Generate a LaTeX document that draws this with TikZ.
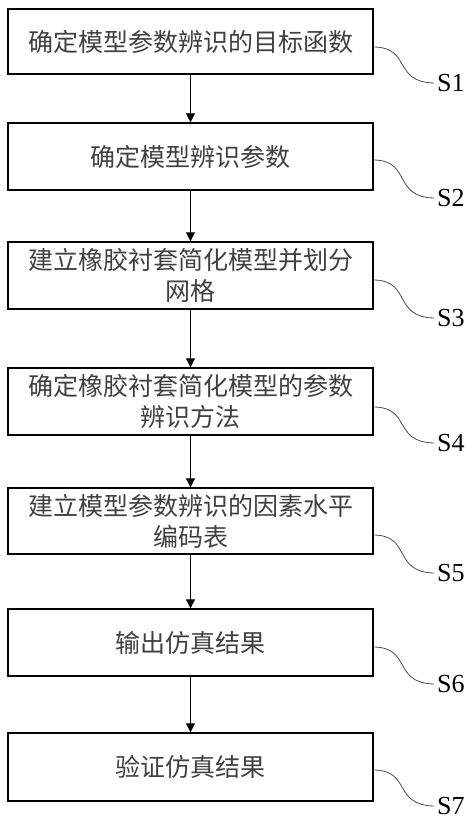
\documentclass[tikz,border=0pt]{standalone}
\usepackage{fontspec}
\newfontfamily\cjk{Noto Sans CJK SC}
\newfontfamily\lab{Liberation Serif}
\usetikzlibrary{arrows.meta}
\begin{document}
\begin{tikzpicture}[x=1pt,y=-1pt,
  stepbox/.style={draw=black,line width=1.4pt,minimum width=365pt,inner sep=0pt,
    align=center,font=\cjk\fontsize{25}{31}\selectfont,text=black!75},
  flow/.style={line width=0.9pt,-{Triangle[length=9pt,width=9pt]}},
  lead/.style={line width=0.8pt,black!70},
  slab/.style={font=\lab\fontsize{26}{26}\selectfont,anchor=west,inner sep=0pt}]
\useasboundingbox (0,0) rectangle (474,821);
\node[stepbox,minimum height=65pt] (b1) at (190.5,41.5) {确定模型参数辨识的目标函数};
\node[stepbox,minimum height=67pt] (b2) at (190.5,156.5) {确定模型辨识参数};
\node[stepbox,minimum height=67pt] (b3) at (190.5,275.5) {建立橡胶衬套简化模型并划分\\网格};
\node[stepbox,minimum height=67pt] (b4) at (190.5,401.5) {确定橡胶衬套简化模型的参数\\辨识方法};
\node[stepbox,minimum height=66pt] (b5) at (190.5,521) {建立模型参数辨识的因素水平\\编码表};
\node[stepbox,minimum height=67pt] (b6) at (190.5,642.5) {输出仿真结果};
\node[stepbox,minimum height=68pt] (b7) at (190.5,767) {验证仿真结果};
\foreach \a/\b in {b1/b2,b2/b3,b3/b4,b4/b5,b5/b6,b6/b7}
  \draw[flow] (\a.south) -- (\b.north);
\foreach \i/\ys/\ye in {1/47/82,2/160/197,3/280/317,4/407/442,5/535/572,6/647/683,7/770/805}{
  \coordinate (c\i) at (373,\ys);
  \node[slab] (s\i) at (437,\ye+1) {S\i};
  \draw[lead] (c\i) .. controls (412,\ys) and (392,\ye) .. ([xshift=-3pt]s\i.west);
}
\end{tikzpicture}
\end{document}
